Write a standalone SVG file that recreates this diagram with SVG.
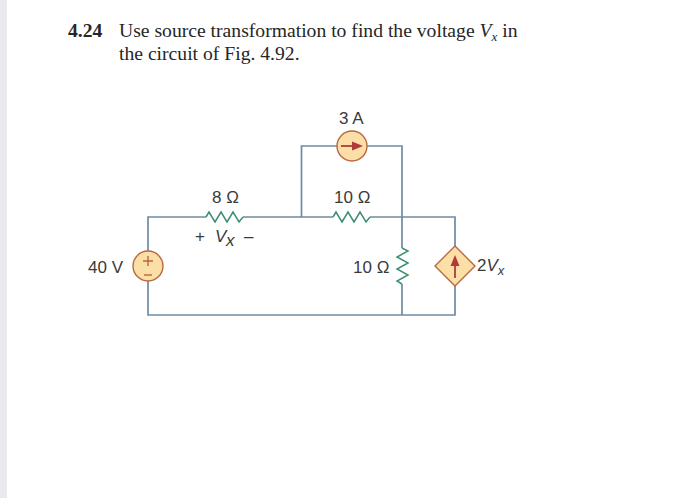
<svg xmlns="http://www.w3.org/2000/svg" width="700" height="498" viewBox="0 0 700 498">
<style>
.t{font-family:"Liberation Serif",serif;font-size:19.65px;fill:#262626}
.l{font-family:"Liberation Sans",Arial,sans-serif;font-size:17px;fill:#3a3a3a}
.i{font-style:italic}
.w{fill:none;stroke:#6f8aa3;stroke-width:1.7}
.r{fill:none;stroke:#3f8f75;stroke-width:1.5}
.s{fill:#fbdfa6;stroke:#b8683f;stroke-width:1.4}
.a{fill:none;stroke:#b03a3a;stroke-width:1.8}
.h{fill:#b03a3a}
</style>
<rect width="700" height="498" fill="#fff"/>
<rect x="0" y="0" width="7" height="498" fill="#e9e9ef"/>
<g id="title">
<text class="t" x="68" y="37" font-weight="bold">4.24</text>
<text class="t" x="119" y="37">Use source transformation to find the voltage <tspan class="i">V</tspan><tspan class="i" font-size="13" dy="4">x</tspan><tspan dy="-4"> in</tspan></text>
<text class="t" x="119" y="60">the circuit of Fig. 4.92.</text>
</g>
<g id="connectors">
<path class="w" d="M148 251V217H206M243 217H333M370 217H455V246M148 281V315H455V286M301.500 217V146H337M367 146H402V248M402 284V315"/>
</g>
<g id="v40">
<circle class="s" cx="148" cy="266" r="15"/>
<path d="M143 261h10M148 256v10" fill="none" stroke="#b8683f" stroke-width="1.400"/>
<path d="M144 275h8" fill="none" stroke="#b8683f" stroke-width="1.400"/>
<text class="l" x="88" y="272.500">40 V</text>
</g>
<g id="r8">
<path class="r" d="M206 217L209 212L215 222L221 212L227 222L233 212L239 222L243 217"/>
<text class="l" x="212" y="202.500">8 Ω</text>
<text class="l" x="195" y="242">+</text>
<text class="l i" x="215" y="242">V</text>
<text class="l i" x="226" y="246" font-size="13">x</text>
<text class="l" x="244" y="242">–</text>
</g>
<g id="i3">
<circle class="s" cx="352" cy="146" r="15"/>
<path class="a" d="M341 146H354"/>
<path class="h" d="M363 146L352 141.500V150.500Z"/>
<text class="l" x="339" y="124">3 A</text>
</g>
<g id="r10h">
<path class="r" d="M333 217L336 212L342 222L348 212L354 222L360 212L366 222L370 217"/>
<text class="l" x="334" y="202.500">10 Ω</text>
</g>
<g id="r10v">
<path class="r" d="M402 248L408 251L397 257L408 263L397 269L408 275L397 281L402 284"/>
<text class="l" x="353" y="272.500">10 Ω</text>
</g>
<g id="dep">
<path class="s" d="M455 246L475 266L455 286L435 266Z"/>
<path class="a" d="M455 278V264"/>
<path class="h" d="M455 255L450.500 266H459.500Z"/>
<text class="l" x="477" y="271">2<tspan class="i">V</tspan><tspan class="i" font-size="13" dy="4">x</tspan></text>
</g>
</svg>
